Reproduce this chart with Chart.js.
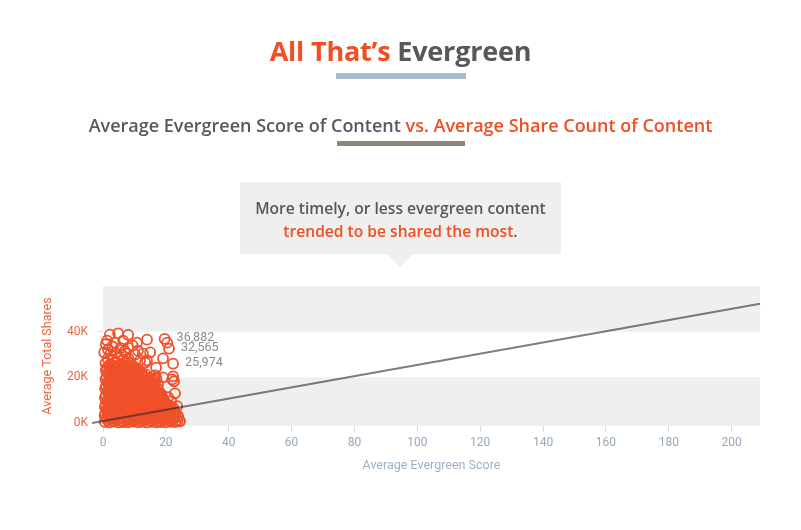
<!DOCTYPE html>
<html>
<head>
<meta charset="utf-8">
<script src="https://cdn.jsdelivr.net/npm/chart.js@4"></script>
<style>
  html, body { margin:0; padding:0; background:#fff; }
  body { width:801px; height:530px; position:relative; overflow:hidden; font-family:"Open Sans", sans-serif; }
  #chart { position:absolute; left:0; top:0; }
  .abs { position:absolute; }
  #title { left:0; width:801px; top:35px; line-height:32px; text-align:center; font-size:27px; font-weight:700; color:#58585a; letter-spacing:-0.2px; }
  .org { color:#f04e23; }
  #bar1 { left:336px; top:73px; width:130px; height:6px; background:#a8bacb; }
  #subtitle { left:0; width:801px; top:113px; line-height:24px; text-align:center; font-size:18px; font-weight:600; color:#58585a; }
  #bar2 { left:337px; top:141px; width:128px; height:5px; background:#8f8878; }
  #callout { left:240px; top:182px; width:321px; height:72px; background:#efefed; }
  #tri { left:387px; top:254px; width:0; height:0; border-left:13px solid transparent; border-right:13px solid transparent; border-top:13px solid #efefed; }
  #ctext { left:240px; width:321px; top:197px; line-height:23px; text-align:center; font-size:15.6px; font-weight:600; color:#58585a; }
</style>
</head>
<body>
<canvas id="chart" width="801" height="530"></canvas>
<div class="abs" id="title"><span class="org">All That’s</span> Evergreen</div>
<div class="abs" id="bar1"></div>
<div class="abs" id="subtitle">Average Evergreen Score of Content <span class="org">vs. Average Share Count of Content</span></div>
<div class="abs" id="bar2"></div>
<div class="abs" id="callout"></div>
<div class="abs" id="tri"></div>
<div class="abs" id="ctext">More timely, or less evergreen content<br><span class="org">trended to be shared the most</span>.</div>
<script>
// ---- data: [average evergreen score, average total shares] ----
const contentPoints = [
  [0.6,500],[2.0,300],[3.5,600],[5.0,250],[6.5,450],[8.0,350],[9.6,600],[11.1,300],[12.5,500],[14.0,250],[15.6,550],[17.1,350],[18.5,450],[20.0,300],[21.6,550],[23.0,400],[24.4,700],
  [1.4,1300],[2.9,1200],[4.4,1450],[5.9,1100],[7.4,1350],[9.0,1250],[10.4,1400],[11.9,1150],[13.4,1350],[14.9,1200],[16.4,1450],[17.9,1150],[19.4,1350],[20.9,1250],[22.4,1400],[23.7,1200],
  [1.2,2300],[2.7,2100],[4.2,2500],[5.7,2000],[7.2,2400],[8.8,2150],[10.3,2450],[11.8,1950],[13.3,2300],[14.9,2100],[16.4,2500],[17.9,2000],[19.5,2350],[21.0,2150],[22.5,2400],[23.8,3000],
  [0.5,3100],[1.9,3300],[3.4,3050],[5.0,3250],[6.5,3150],[8.0,3350],[9.5,3000],[11.0,3250],[12.5,3150],[14.1,3300],[15.6,3050],[17.1,3200],[18.7,3100],[20.2,3350],[21.7,3050],[23.0,3300],
  [0.7,4200],[2.2,3900],[3.8,4300],[5.3,4000],[6.8,4400],[8.3,3950],[9.9,4250],[11.4,4000],[12.9,4350],[14.5,3900],[16.0,4200],[17.6,4050],[19.1,4300],[20.6,3950],[22.2,4250],[23.1,4600],
  [1.4,5100],[3.0,4950],[4.5,5200],[6.0,4900],[7.6,5150],[9.1,5000],[10.6,5200],[12.2,4900],[13.7,5100],[15.3,4950],[16.8,5200],[18.3,4950],[19.9,5150],[21.4,5000],[22.7,5200],
  [1.3,6100],[2.8,5900],[4.4,6200],[5.9,5850],[7.4,6150],[9.0,5950],[10.5,6250],[12.0,5900],[13.6,6100],[15.1,5800],[16.6,6200],[18.2,6000],[19.7,6300],[21.2,5900],[22.4,6500],
  [0.6,7100],[2.0,6900],[3.6,7200],[5.1,6950],[6.6,7150],[8.2,6900],[9.7,7200],[11.3,6950],[12.8,7100],[14.3,6900],[15.9,7150],[17.4,7000],[18.9,7200],[20.3,6950],[21.5,7300],
  [0.8,8100],[2.3,7900],[3.9,8200],[5.4,7850],[7.0,8150],[8.5,7950],[10.1,8250],[11.6,7900],[13.1,8100],[14.7,7800],[16.2,8200],[17.8,8000],[19.3,8300],[20.6,7900],
  [1.5,9100],[3.1,8900],[4.6,9200],[6.2,8950],[7.7,9150],[9.2,8900],[10.8,9200],[12.3,8950],[13.9,9100],[15.4,8900],[16.9,9150],[18.4,9000],[19.8,9200],
  [1.4,10100],[2.9,9850],[4.5,10200],[6.0,9900],[7.5,10150],[9.1,9950],[10.6,10250],[12.1,9900],[13.7,10100],[15.2,9850],[16.7,10200],[18.1,10000],[19.2,10400],
  [0.6,11100],[2.1,10900],[3.7,11200],[5.2,10950],[6.8,11150],[8.3,10900],[9.8,11200],[11.4,10950],[12.9,11100],[14.4,10900],[16.0,11150],[17.4,11000],[18.7,11300],
  [0.9,12100],[2.4,11900],[4.0,12200],[5.5,11850],[7.1,12150],[8.6,11950],[10.2,12250],[11.7,11900],[13.2,12100],[14.8,11850],[16.3,12200],[17.7,12000],[18.6,12500],
  [1.6,13100],[3.2,12900],[4.7,13200],[6.3,12950],[7.8,13150],[9.3,12900],[10.9,13200],[12.4,12950],[14.0,13100],[15.5,12900],[17.0,13150],[18.1,13000],
  [1.5,14100],[3.0,13850],[4.6,14200],[6.1,13900],[7.6,14150],[9.2,13950],[10.7,14250],[12.2,13900],[13.8,14100],[15.3,13850],[16.8,14200],[17.6,14400],
  [0.7,15100],[2.2,14900],[3.8,15200],[5.3,14950],[6.9,15150],[8.4,14900],[10.0,15200],[11.5,14950],[13.0,15100],[14.6,14900],[16.1,15150],[17.2,15300],
  [1.0,16100],[2.5,15900],[4.1,16200],[5.6,15850],[7.2,16150],[8.7,15950],[10.3,16250],[11.8,15900],[13.3,16100],[14.9,15850],[16.2,16300],[17.5,17000],
  [1.7,17100],[3.3,16900],[4.8,17200],[6.4,16950],[7.9,17150],[9.5,16900],[11.0,17200],[12.6,16950],[14.1,17100],[15.6,16900],[16.5,17400],
  [1.6,18100],[3.1,17850],[4.7,18200],[6.2,17900],[7.7,18150],[9.3,17950],[10.8,18250],[12.3,17900],[13.9,18100],[15.3,17900],[16.0,18600],[17.0,19500],
  [0.8,19100],[2.3,18900],[3.9,19200],[5.4,18950],[7.0,19150],[8.5,18900],[10.1,19200],[11.6,18950],[13.1,19100],[14.6,18900],[15.8,19300],
  [1.1,20100],[2.6,19900],[4.2,20200],[5.7,19850],[7.3,20150],[8.8,19950],[10.4,20250],[11.9,19900],[13.4,20100],[14.8,19800],
  [1.8,21100],[3.4,20900],[4.9,21200],[6.5,20950],[8.0,21150],[9.6,20900],[11.1,21200],[12.6,20950],[13.6,21300],
  [1.7,22100],[3.2,21850],[4.8,22200],[6.3,21900],[7.8,22150],[9.4,21950],[10.9,22300],[12.3,21900],
  [0.9,23100],[2.4,22900],[4.0,23200],[5.5,22950],[7.1,23150],[8.6,22900],[10.1,23200],[11.4,23000],
  [1.2,24100],[2.7,23900],[4.3,24200],[5.8,23850],[7.4,24150],[8.9,23950],[10.3,24300],
  [1.9,25100],[3.4,24900],[5.0,25200],[6.6,24950],[8.1,25150],[9.5,25000],
  [0.8,26200],[2.3,25800],[3.9,26400],[5.5,25900],[7.0,26300],[8.6,26000],
  [1.5,28100],[3.2,27700],[4.8,28400],[6.4,27900],[8.1,28300],
  [0.4,30900],[2.4,30200],[4.1,30600],[5.9,29900],[7.3,30500],
  [3.0,33500],[5.6,32800],[9.4,34000],[0.9,34500],[6.9,31500],
  [2.2,38700],[4.8,39300],[8.0,38600],[1.3,36100],[3.8,35200],[6.4,36100],[10.8,35200],[11.1,31700],[10.2,30000],[1.6,32200],[8.0,33000],
  [12.7,30400],[15.0,30900],[14.0,36500],[19.6,36882],[20.4,35200],[21.0,32565],[19.1,28300],[22.3,25974],[14.0,27400],[13.4,26500],[11.8,27400],
  [16.9,24300],[16.6,20900],[22.3,20400],[19.1,20000],[12.7,20900],[22.0,19100],[22.6,18300],[22.9,13000],[20.7,11300],[21.7,9600],[23.6,7400],[23.9,3000],[24.5,900]
];
const labeledPoints = [[19.6,36882],[21.0,32565],[22.3,25974]];
const trendLine = [[-3.5,0],[209,52200]];
const xTicks = [0,20,40,60,80,100,120,140,160,180,200];
const yTicks = [0,20000,40000];
const bandEdges = [20000,40000];
const xRange = [0,209];
const yRange = [-1300,60000];

const orange = '#f0502a';

const bandPlugin = {
  id:'bands',
  beforeDatasetsDraw(chart){
    const {ctx, chartArea:a, scales:{y}} = chart;
    ctx.save();
    ctx.fillStyle = '#efefed';
    const spans = [[y.min, bandEdges[0]],[bandEdges[1], y.max]];
    spans.forEach(([lo,hi])=>{
      const top = y.getPixelForValue(hi), bot = y.getPixelForValue(lo);
      ctx.fillRect(a.left, top, a.right-a.left, bot-top);
    });
    ctx.restore();
  }
};
const labelPlugin = {
  id:'pointLabels',
  afterDatasetsDraw(chart){
    const {ctx, scales:{x,y}} = chart;
    ctx.save();
    ctx.font = '12.5px Roboto, sans-serif';
    ctx.fillStyle = '#8b8b85';
    ctx.textAlign = 'left';
    ctx.textBaseline = 'middle';
    labeledPoints.forEach(([sx,sy])=>{
      ctx.fillText(sy.toLocaleString('en-US'), x.getPixelForValue(sx)+12, y.getPixelForValue(sy)-1);
    });
    ctx.restore();
  }
};

new Chart(document.getElementById('chart'), {
  type:'scatter',
  data:{
    datasets:[
      { label:'Trend', data: trendLine.map(([x,y])=>({x,y})), showLine:true, pointRadius:0,
        borderColor:'rgba(40,40,40,0.6)', borderWidth:2, order:0, clip:false },
      { label:'Content', data: contentPoints.map(([x,y])=>({x,y})), pointRadius:5, pointHoverRadius:5,
        pointBorderWidth:1.8, pointBackgroundColor:'rgba(0,0,0,0)', pointBorderColor:orange, order:1, clip:false }
    ]
  },
  options:{
    responsive:false,
    animation:false,
    events:[],
    layout:{ padding:{ left:0, right:41, top:286, bottom:0 } },
    plugins:{ legend:{display:false}, tooltip:{enabled:false} },
    scales:{
      x:{
        type:'linear', min:xRange[0], max:xRange[1],
        afterBuildTicks(s){ s.ticks = xTicks.map(v=>({value:v})); },
        afterFit(s){ s.height = 104; },
        border:{ display:false },
        grid:{ drawOnChartArea:false, drawTicks:true, tickLength:6, color:'#dcdcdc' },
        ticks:{ color:'#97a8bb', font:{ family:'Roboto', size:12 }, padding:4, maxRotation:0 },
        title:{ display:true, text:'Average Evergreen Score', color:'#9db1c6', font:{ family:'Roboto', size:12.5 }, padding:{ top:0, bottom:57 } }
      },
      y:{
        type:'linear', min:yRange[0], max:yRange[1],
        afterBuildTicks(s){ s.ticks = yTicks.map(v=>({value:v})); },
        afterFit(s){ s.width = 103; },
        border:{ display:false },
        grid:{ drawOnChartArea:false, drawTicks:true, tickLength:5, color:'#dcdcdc' },
        ticks:{ color:'#f0643c', font:{ family:'Roboto', size:12 }, padding:10, callback:(v)=> (v/1000)+'K' },
        title:{ display:true, text:'Average Total Shares', color:'#f0643c', font:{ family:'Roboto', size:12.5 }, padding:{ top:40, bottom:0 } }
      }
    }
  },
  plugins:[bandPlugin, labelPlugin]
});
</script>
</body>
</html>
